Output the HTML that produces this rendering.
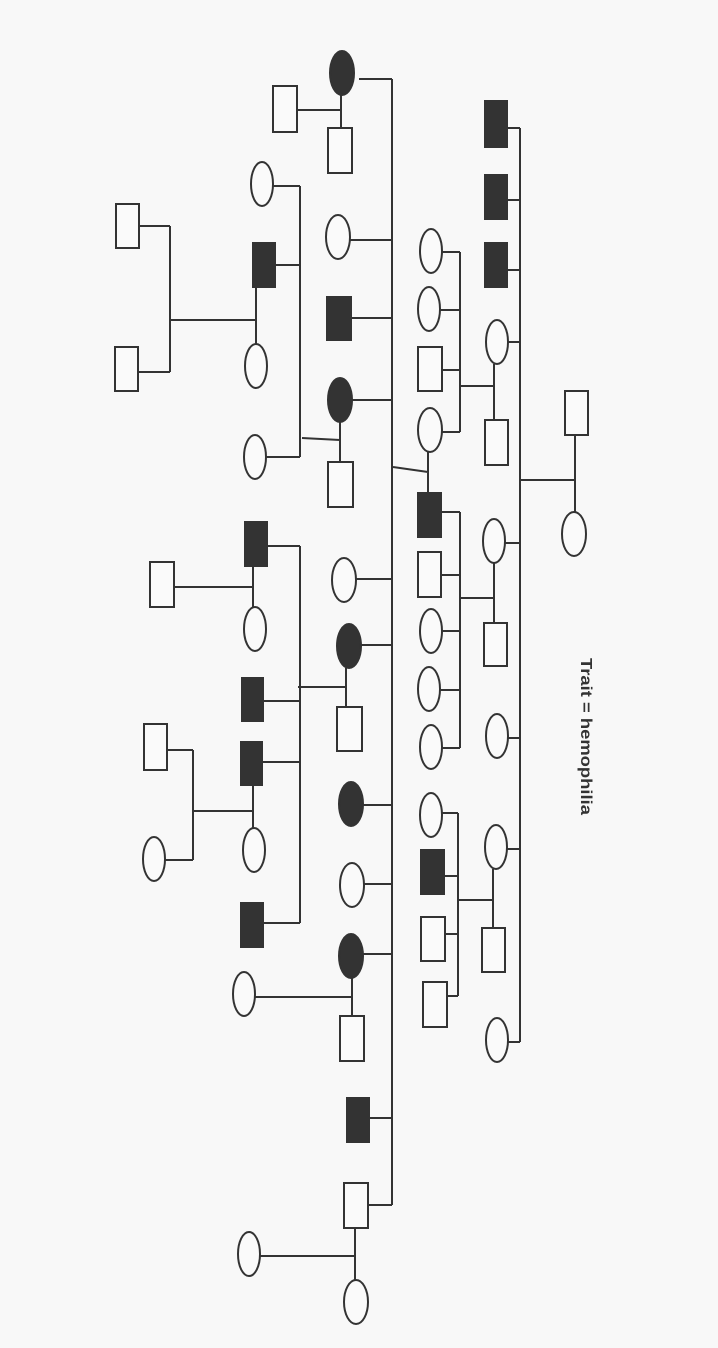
<!DOCTYPE html>
<html><head><meta charset="utf-8"><style>
html,body{margin:0;padding:0;background:#f8f8f8;}
svg{display:block;}
</style></head><body>
<svg width="718" height="1348" viewBox="0 0 718 1348" xmlns="http://www.w3.org/2000/svg">
<rect width="718" height="1348" fill="#f8f8f8"/>
<g stroke="#333" stroke-width="2" fill="none">
<!-- main line -->
<path d="M392 79V1205"/>
<path d="M359 79H392 M350 240H392 M351 318H392 M352 400H392 M356 579H392 M361 645H392 M363 805H392 M364 884H392 M363 954H392 M369 1118H392 M368 1205H392"/>
<!-- col A top family -->
<path d="M297 110H341 M341 95V128"/>
<path d="M340 422V462 M302 438L340 440"/>
<!-- col B upper -->
<path d="M300 186V457 M273 186H300 M275 265H300 M266 457H300"/>
<path d="M256 287V346 M170 320H256 M170 226V372 M139 226H170 M138 372H170"/>
<!-- col C upper -->
<path d="M460 252V432 M442 252H460 M440 310H460 M442 370H460 M441 432H460"/>
<path d="M428 452V492 M393 467L428 472"/>
<path d="M460 386H494 M494 364V420"/>
<!-- right line -->
<path d="M520 128V1042 M507 128H520 M507 200H520 M507 270H520 M508 342H520"/>
<path d="M520 480H575 M575 435V512"/>
<!-- col C mid -->
<path d="M460 512V748 M441 512H460 M441 575H460 M442 631H460 M440 690H460 M442 748H460"/>
<path d="M460 598H494 M494 563V622 M505 543H520 M508 738H520"/>
<!-- col C lower -->
<path d="M458 813V996 M442 813H458 M444 876H458 M445 934H458 M447 996H458"/>
<path d="M458 900H493 M493 869V928 M507 849H520 M508 1042H520"/>
<!-- col B lower -->
<path d="M300 546V923 M267 546H300 M263 701H300 M262 762H300 M263 923H300"/>
<path d="M253 566V607 M174 587H253"/>
<path d="M298 687H346 M346 668V707"/>
<path d="M253 785V828 M193 811H253 M193 750V860 M167 750H193 M165 860H193"/>
<path d="M352 978V1016 M255 997H352"/>
<path d="M355 1228V1280 M260 1256H355"/>
</g>
<!-- shapes -->
<g stroke="#333" stroke-width="2">
<!-- filled -->
<g fill="#333">
<ellipse cx="342" cy="73" rx="12" ry="22"/>
<rect x="327" y="297" width="24" height="43"/>
<ellipse cx="340" cy="400" rx="12" ry="22"/>
<rect x="253" y="243" width="22" height="44"/>
<rect x="485" y="101" width="22" height="46"/>
<rect x="485" y="175" width="22" height="44"/>
<rect x="485" y="243" width="22" height="44"/>
<rect x="418" y="493" width="23" height="44"/>
<rect x="421" y="850" width="23" height="44"/>
<ellipse cx="349" cy="646" rx="12" ry="22"/>
<ellipse cx="351" cy="804" rx="12" ry="22"/>
<ellipse cx="351" cy="956" rx="12" ry="22"/>
<rect x="245" y="522" width="22" height="44"/>
<rect x="242" y="678" width="21" height="43"/>
<rect x="241" y="742" width="21" height="43"/>
<rect x="241" y="903" width="22" height="44"/>
<rect x="347" y="1098" width="22" height="44"/>
</g>
<g fill="#fafafa">
<rect x="273" y="86" width="24" height="46"/>
<rect x="328" y="128" width="24" height="45"/>
<ellipse cx="338" cy="237" rx="12" ry="22"/>
<rect x="328" y="462" width="25" height="45"/>
<ellipse cx="262" cy="184" rx="11" ry="22"/>
<ellipse cx="256" cy="366" rx="11" ry="22"/>
<ellipse cx="255" cy="457" rx="11" ry="22"/>
<rect x="116" y="204" width="23" height="44"/>
<rect x="115" y="347" width="23" height="44"/>
<ellipse cx="431" cy="251" rx="11" ry="22"/>
<ellipse cx="429" cy="309" rx="11" ry="22"/>
<rect x="418" y="347" width="24" height="44"/>
<ellipse cx="430" cy="430" rx="12" ry="22"/>
<ellipse cx="497" cy="342" rx="11" ry="22"/>
<rect x="485" y="420" width="23" height="45"/>
<rect x="565" y="391" width="23" height="44"/>
<ellipse cx="574" cy="534" rx="12" ry="22"/>
<rect x="418" y="552" width="23" height="45"/>
<ellipse cx="431" cy="631" rx="11" ry="22"/>
<ellipse cx="429" cy="689" rx="11" ry="22"/>
<ellipse cx="431" cy="747" rx="11" ry="22"/>
<ellipse cx="494" cy="541" rx="11" ry="22"/>
<rect x="484" y="623" width="23" height="43"/>
<ellipse cx="497" cy="736" rx="11" ry="22"/>
<ellipse cx="431" cy="815" rx="11" ry="22"/>
<ellipse cx="496" cy="847" rx="11" ry="22"/>
<rect x="482" y="928" width="23" height="44"/>
<rect x="421" y="917" width="24" height="44"/>
<rect x="423" y="982" width="24" height="45"/>
<ellipse cx="497" cy="1040" rx="11" ry="22"/>
<ellipse cx="344" cy="580" rx="12" ry="22"/>
<rect x="337" y="707" width="25" height="44"/>
<ellipse cx="255" cy="629" rx="11" ry="22"/>
<rect x="150" y="562" width="24" height="45"/>
<ellipse cx="254" cy="850" rx="11" ry="22"/>
<rect x="144" y="724" width="23" height="46"/>
<ellipse cx="154" cy="859" rx="11" ry="22"/>
<ellipse cx="352" cy="885" rx="12" ry="22"/>
<rect x="340" y="1016" width="24" height="45"/>
<ellipse cx="244" cy="994" rx="11" ry="22"/>
<rect x="344" y="1183" width="24" height="45"/>
<ellipse cx="356" cy="1302" rx="12" ry="22"/>
<ellipse cx="249" cy="1254" rx="11" ry="22"/>
</g>
</g>
<text x="0" y="0" transform="translate(581 658) rotate(90)" font-family="Liberation Sans, sans-serif" font-weight="bold" font-size="16" fill="#333" textLength="157" lengthAdjust="spacingAndGlyphs">Trait = hemophilia</text>
</svg>
</body></html>
